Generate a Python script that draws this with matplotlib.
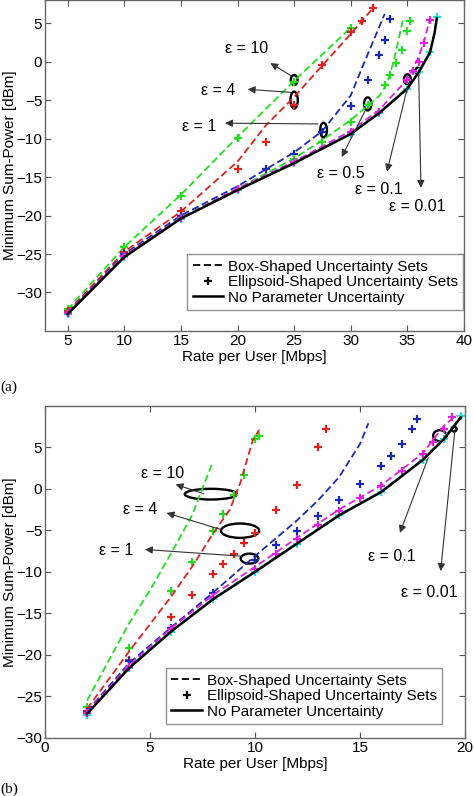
import matplotlib
matplotlib.use("Agg")
import matplotlib.pyplot as plt
from matplotlib.patches import Ellipse
from matplotlib.lines import Line2D

plt.rcParams["font.family"] = ["Liberation Sans", "DejaVu Sans"]
plt.rcParams["font.size"] = 11

GREEN = "#22dd22"
RED = "#dd2222"
BLUE = "#1a2aaa"
MAGENTA = "#dd22dd"
CYAN = "#22dddd"

# ---------------------------
# Panel (a) data
# ---------------------------
a_box_e10_x = [5, 10, 15, 20, 25, 30]
a_box_e10_y = [-32.2, -24.1, -17.3, -9.8, -2.5, 4.4]
a_ell_e10_x = [5, 10, 15, 20, 25, 30]
a_ell_e10_y = [-32.1, -24.1, -17.5, -9.9, -2.6, 4.4]

a_box_e4_x = [5, 10, 15, 20, 22.5, 25, 30, 32]
a_box_e4_y = [-32.5, -24.7, -19.5, -13.0, -8.3, -4.6, 3.6, 7.0]
a_ell_e4_x = [5, 10, 15, 20, 22.5, 25, 27.5, 30, 31, 32]
a_ell_e4_y = [-32.4, -24.8, -19.4, -14.0, -10.4, -5.7, -0.5, 3.8, 5.3, 7.0]

a_box_e1_x = [5, 10, 15, 20, 25, 27.5, 30, 31, 32, 33]
a_box_e1_y = [-32.6, -25.0, -20.0, -16.2, -11.8, -9.0, -4.4, -0.8, 2.7, 6.2]
a_ell_e1_x = [5, 10, 15, 20, 22.5, 25, 27.5, 30, 31.5, 32.5, 33, 33.5]
a_ell_e1_y = [-32.6, -25.0, -20.1, -16.5, -14.0, -12.0, -9.2, -5.8, -2.4, 0.9, 2.8, 5.5]

a_box_e05_x = [5, 10, 15, 20, 25, 27.5, 30, 32.5, 33.2, 33.8, 34.2, 34.6]
a_box_e05_y = [-32.7, -25.2, -20.3, -16.5, -12.6, -10.2, -7.6, -4.5, -2.9, 0.1, 2.7, 5.4]
a_ell_e05_x = [5, 10, 15, 20, 25, 27.5, 30, 31.5, 33, 33.5, 34, 34.5, 35, 35.2]
a_ell_e05_y = [-32.7, -25.2, -20.3, -16.5, -12.7, -10.4, -7.8, -5.7, -3.1, -1.7, -0.2, 1.5, 4.0, 5.3]

a_box_e01_x = [5, 10, 15, 20, 25, 30, 32.5, 35, 36, 36.5, 37]
a_box_e01_y = [-32.6, -25.2, -20.3, -16.5, -13.0, -9.0, -6.3, -2.3, 0.6, 2.8, 5.6]
a_ell_e01_x = [5, 10, 15, 20, 25, 30, 32.5, 35, 35.5, 36, 36.5, 37]
a_ell_e01_y = [-32.6, -25.2, -20.3, -16.5, -13.0, -9.2, -6.6, -2.4, -1.2, 0.0, 2.4, 5.4]

a_box_e001_x = [5, 10, 15, 20, 25, 30, 32.5, 35, 36, 37, 37.4, 37.6]
a_box_e001_y = [-32.7, -25.3, -20.3, -16.6, -13.1, -9.3, -6.6, -3.4, -1.3, 1.3, 3.8, 5.7]
a_ell_e001_x = [5, 10, 15, 20, 25, 30, 32.5, 35, 36, 37, 37.6]
a_ell_e001_y = [-32.8, -25.4, -20.4, -16.7, -13.2, -9.4, -6.7, -3.5, -1.4, 1.2, 5.8]

a_nom_x = [5, 10, 15, 20, 25, 30, 32.5, 35, 36, 37, 37.4, 37.6]
a_nom_y = [-32.8, -25.4, -20.4, -16.7, -13.2, -9.4, -6.7, -3.5, -1.4, 1.2, 3.7, 5.6]

a_xticks = [5, 10, 15, 20, 25, 30, 35, 40]
a_yticks = [-30, -25, -20, -15, -10, -5, 0, 5]

# label, ellipse centre, ellipse size, arrow tail, arrow head, text position
a_notes = [
    ("ε = 10", (25.0, -2.4), (0.6, 1.3), (24.8, -1.9), (22.9, -0.2), (20.8, 1.7)),
    ("ε = 4", (25.0, -5.0), (0.65, 2.2), (24.7, -4.0), (20.9, -3.6), (18.3, -3.7)),
    ("ε = 1", (27.6, -8.9), (0.6, 1.9), (27.1, -8.1), (18.9, -8.0), (16.6, -8.4)),
    ("ε = 0.5", (31.5, -5.5), (0.65, 1.7), (31.3, -6.3), (29.2, -12.4), (29.1, -14.5)),
    ("ε = 0.1", (35.0, -2.3), (0.6, 1.3), (35.0, -3.4), (33.2, -14.3), (32.5, -16.6)),
    ("ε = 0.01", (35.9, -1.2), (0.4, 0.8), (36.0, -1.7), (36.2, -16.4), (35.9, -18.8)),
]

# ---------------------------
# Panel (b) data
# ---------------------------
b_box_e10_x = [2, 4, 5, 6, 7, 8]
b_box_e10_y = [-25.5, -16.2, -12.2, -7.8, -3.2, 3.3]
b_ell_e10_x = [2, 4, 6, 7, 8, 8.5, 9, 9.5, 10, 10.2]
b_ell_e10_y = [-26.3, -19.2, -12.3, -8.8, -5.1, -3.0, -0.7, 1.7, 6.0, 6.4]

b_box_e4_x = [2, 4, 6, 7, 8, 8.8, 9.3, 9.9, 10.2]
b_box_e4_y = [-26.5, -19.6, -13.0, -9.4, -5.4, -2.5, 0.7, 5.9, 7.1]
b_ell_e4_x = [2, 4, 6, 7, 8, 8.5, 9, 9.5, 10, 11, 12, 13, 13.4]
b_ell_e4_y = [-26.7, -20.6, -15.4, -12.8, -10.2, -9.0, -7.8, -6.5, -5.3, -2.6, 0.5, 5.0, 7.2]

b_box_e1_x = [2, 4, 6, 8, 10, 12, 13, 14, 15, 15.4]
b_box_e1_y = [-26.8, -21.0, -16.7, -12.5, -8.1, -3.8, -1.4, 1.4, 5.4, 7.9]
b_ell_e1_x = [2, 4, 6, 8, 10, 11, 12, 13, 14, 15, 16, 16.5, 17, 17.5, 17.7]
b_ell_e1_y = [-26.9, -20.7, -16.7, -12.5, -8.6, -6.8, -5.1, -3.3, -1.3, 0.6, 2.7, 4.0, 5.4, 7.2, 8.4]

b_box_e01_x = [2, 4, 6, 8, 10, 12, 14, 16, 18, 19, 19.6]
b_box_e01_y = [-26.9, -21.3, -16.8, -12.8, -9.4, -5.9, -2.5, 0.4, 4.3, 7.6, 8.9]
b_ell_e01_x = [2, 4, 6, 8, 10, 11, 12, 13, 14, 15, 16, 17, 18, 18.5, 19, 19.4]
b_ell_e01_y = [-27.0, -21.4, -16.9, -13.0, -9.6, -7.8, -6.1, -4.4, -2.7, -1.1, 0.3, 2.2, 4.2, 5.6, 7.2, 8.6]

b_box_e001_x = [2, 4, 6, 8, 10, 12, 14, 16, 18, 19, 19.8]
b_box_e001_y = [-27.0, -21.5, -17.1, -13.2, -9.9, -6.5, -3.1, -0.3, 3.6, 6.2, 8.7]
b_ell_e001_x = [2, 4, 6, 8, 10, 12, 14, 16, 18, 19, 19.8]
b_ell_e001_y = [-27.2, -21.6, -17.2, -13.3, -10.0, -6.6, -3.2, -0.4, 3.5, 6.0, 8.8]

b_nom_x = [2, 4, 6, 8, 10, 12, 14, 16, 18, 19, 19.8]
b_nom_y = [-27.1, -21.6, -17.2, -13.3, -10.0, -6.6, -3.2, -0.4, 3.5, 6.0, 8.6]

b_xticks = [0, 5, 10, 15, 20]
b_yticks = [-30, -25, -20, -15, -10, -5, 0, 5]

b_notes = [
    ("ε = 10", (7.9, -0.64), (2.49, 1.29), (7.57, -0.6), (6.22, 0.53), (5.58, 1.86)),
    ("ε = 4", (9.29, -5.04), (1.82, 1.73), (8.38, -4.9), (5.79, -2.9), (4.52, -2.43)),
    ("ε = 1", (9.74, -8.4), (0.84, 1.2), (9.41, -8.12), (4.76, -7.3), (3.37, -7.44)),
    ("ε = 0.1", (18.8, 6.4), (0.63, 1.33), (18.25, 3.75), (16.9, -5.3), (16.5, -8.1)),
    ("ε = 0.01", (19.48, 7.2), (0.24, 0.6), (19.52, 7.1), (18.84, -9.9), (18.3, -12.5)),
]


def draw_panel(ax, series, nom_x, nom_y, notes):
    for color, bx, by, ex, ey in series:
        ax.plot(bx, by, "--", color=color, lw=1.3, dashes=(4, 2))
        ax.plot(ex, ey, "+", color=color, ms=6, mew=1.6)
    ax.plot(nom_x, nom_y, "-", color="black", lw=1.8)

    for label, centre, size, tail, head, txt in notes:
        ax.add_patch(Ellipse(centre, size[0], size[1], fill=False,
                             edgecolor="black", lw=1.7))
        ax.annotate("", xy=head, xytext=tail,
                    arrowprops=dict(arrowstyle="-|>", color="#333333",
                                    lw=0.8, mutation_scale=11,
                                    shrinkA=0, shrinkB=0))
        ax.text(txt[0], txt[1], label, ha="center", va="center", fontsize=11.5)

    handles = [
        Line2D([], [], ls="--", color="black", lw=1.3, dashes=(4, 2)),
        Line2D([], [], ls="none", marker="+", color="black", ms=6, mew=1.6),
        Line2D([], [], ls="-", color="black", lw=1.8),
    ]
    labels = ["Box-Shaped Uncertainty Sets",
              "Ellipsoid-Shaped Uncertainty Sets",
              "No Parameter Uncertainty"]
    return handles, labels


def style_axes(ax, xticks, yticks):
    ax.set_xticks(xticks)
    ax.set_yticks(yticks)
    ax.tick_params(direction="in", top=True, right=True, length=4,
                   width=0.8, color="#555555", pad=2, labelsize=11)
    for s in ax.spines.values():
        s.set_color("#666666")
        s.set_linewidth(1.0)
    ax.set_xlabel("Rate per User [Mbps]", fontsize=11)
    ax.set_ylabel("Minimum Sum-Power [dBm]", fontsize=11)
    ax.xaxis.set_label_coords(0.5, -0.057)
    ax.yaxis.set_label_coords(-0.067, 0.5)


fig = plt.figure(figsize=(4.74, 7.96), dpi=100)

# ---------------------------
# Panel (a)
# ---------------------------
ax1 = fig.add_axes([0.0949, 0.5842, 0.8840, 0.4158])
series_a = [
    (GREEN, a_box_e10_x, a_box_e10_y, a_ell_e10_x, a_ell_e10_y),
    (RED, a_box_e4_x, a_box_e4_y, a_ell_e4_x, a_ell_e4_y),
    (BLUE, a_box_e1_x, a_box_e1_y, a_ell_e1_x, a_ell_e1_y),
    (GREEN, a_box_e05_x, a_box_e05_y, a_ell_e05_x, a_ell_e05_y),
    (CYAN, a_box_e001_x, a_box_e001_y, a_ell_e001_x, a_ell_e001_y),
    (MAGENTA, a_box_e01_x, a_box_e01_y, a_ell_e01_x, a_ell_e01_y),
]
h, l = draw_panel(ax1, series_a, a_nom_x, a_nom_y, a_notes)
ax1.set_xlim(3, 40)
ax1.set_ylim(-35, 8)
style_axes(ax1, a_xticks, a_yticks)
leg = ax1.legend(h, l, loc="lower right", bbox_to_anchor=(0.9976, 0.063),
                 borderaxespad=0, fancybox=False, fontsize=11,
                 labelspacing=0.1, handlelength=2.0, handletextpad=0.3,
                 borderpad=0.35)
leg.get_frame().set_edgecolor("#777777")
leg.get_frame().set_linewidth(1.0)

# ---------------------------
# Panel (b)
# ---------------------------
ax2 = fig.add_axes([0.0949, 0.0729, 0.8861, 0.4173])
series_b = [
    (GREEN, b_box_e10_x, b_box_e10_y, b_ell_e10_x, b_ell_e10_y),
    (RED, b_box_e4_x, b_box_e4_y, b_ell_e4_x, b_ell_e4_y),
    (BLUE, b_box_e1_x, b_box_e1_y, b_ell_e1_x, b_ell_e1_y),
    (CYAN, b_box_e001_x, b_box_e001_y, b_ell_e001_x, b_ell_e001_y),
    (MAGENTA, b_box_e01_x, b_box_e01_y, b_ell_e01_x, b_ell_e01_y),
]
h, l = draw_panel(ax2, series_b, b_nom_x, b_nom_y, b_notes)
ax2.set_xlim(0, 20)
ax2.set_ylim(-30, 10)
style_axes(ax2, b_xticks, b_yticks)
leg = ax2.legend(h, l, loc="lower right", bbox_to_anchor=(0.945, 0.042),
                 borderaxespad=0, fancybox=False, fontsize=11,
                 labelspacing=0.1, handlelength=2.0, handletextpad=0.3,
                 borderpad=0.35)
leg.get_frame().set_edgecolor("#777777")
leg.get_frame().set_linewidth(1.0)

fig.text(0.0, 0.5138, "(a)", family="Liberation Serif", fontsize=11, va="center")
fig.text(0.0, 0.0088, "(b)", family="Liberation Serif", fontsize=11, va="center")

fig.savefig("out.png", dpi=100)
